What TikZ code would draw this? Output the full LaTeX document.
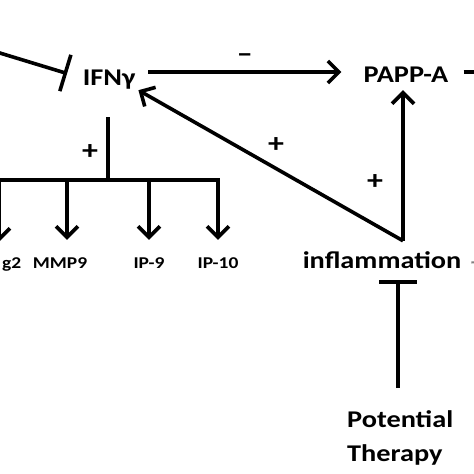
\documentclass[tikz,border=0pt]{standalone}
\usepackage{fontspec}
\setmainfont{Carlito}[FakeStretch=1.18]
\usetikzlibrary{arrows.meta, calc}

\begin{document}
\begin{tikzpicture}[
  x=1pt, y=-1pt,
  every node/.style={inner sep=0pt},
  gene/.style={font=\bfseries\fontsize{24}{34}\selectfont, anchor=base,
    text height=16pt, text depth=5pt},
  small/.style={font=\bfseries\fontsize{16.5}{20}\selectfont, anchor=base,
    text height=12pt, text depth=4pt},
  sign/.style={font=\bfseries\fontsize{27}{28}\selectfont},
  link/.style={line width=3.6pt},
  arrow/.style={link, -{Straight Barb[length=11pt, width=22pt]}},
  block/.style={link, -{Bar[width=38pt]}}
]
  \clip (0,0) rectangle (474,474);

  % labels
  \node[gene] (ifn) at (109,85) {IFNγ};
  \node[gene] (papp) at (406,82) {PAPP-A};
  \node[gene] (infl) at (382,268) {inflammation};
  \node[font=\bfseries\fontsize{24}{34}\selectfont, align=left, anchor=north west]
    (ther) at (347,410) {Potential\\Therapy};
  \node[small, anchor=base west] (g2) at (2,268) {g2};
  \node[small] (mmp9) at (60,268) {MMP9};
  \node[small] (ip9) at (149,268) {IP-9};
  \node[small] (ip10) at (218,268) {IP-10};

  % helper points
  \coordinate (lin) at (-10,50);
  \coordinate (barL) at (-10,180);
  \coordinate (outP) at (480,72);
  \coordinate (outI) at (480,262);
  \coordinate (ifnR) at ($(ifn.east)+(13,-7.5)$);
  \coordinate (papL) at ($(papp.west)+(-22,-4.5)$);
  \coordinate (apex) at ($(infl.north)+(21,-11)$);
  \coordinate (ifnB) at ($(ifn.south)+(-1,27)$);
  \coordinate (split) at ($(ifn.south)+(-1,90)$);
  \coordinate (g2in) at ($(g2.north west)+(-3,2)$);
  \coordinate (mmin) at ($(mmp9.north)+(7,0)$);

  % blocking from the left
  \draw[block] (lin) -- ($(ifn.west)+(-15.5,-6)$);

  % IFNg -> PAPP-A
  \draw[arrow] (ifnR) -- (papL) node[sign, midway, yshift=14pt] {–};

  % inflammation -> PAPP-A and IFNg
  \draw[arrow] (apex) -- ($(papp.south)+(-3,3)$)
    node[sign, pos=0.39, xshift=-28pt] {+};
  \draw[arrow] (apex) -- ($(ifn.south east)+(3,0)$)
    node[sign, pos=0.48, yshift=23pt] {+};

  % IFNg -> targets
  \draw[link] (ifnB) -- (split) node[sign, pos=0.56, xshift=-18pt] {+};
  \draw[arrow, shorten >=16pt] (barL) -| (ip10.north);
  \draw[arrow, shorten >=16pt] (split -| ip9) -- (ip9.north);
  \draw[arrow, shorten >=16pt] (split -| mmin) -- (mmin);
  \draw[arrow, shorten >=16pt] (split -| g2in) -- (g2in);

  % therapy
  \draw[block] ($(ther.north west)+(51,-22)$) -- ($(infl.south)+(16,7)$);

  % lines leaving the picture
  \draw[link] ($(papp.east)+(15,-4.5)$) -- (outP);
  \draw[line width=2pt, black!50] ($(infl.east)+(10,0)$) -- (outI);
\end{tikzpicture}
\end{document}
